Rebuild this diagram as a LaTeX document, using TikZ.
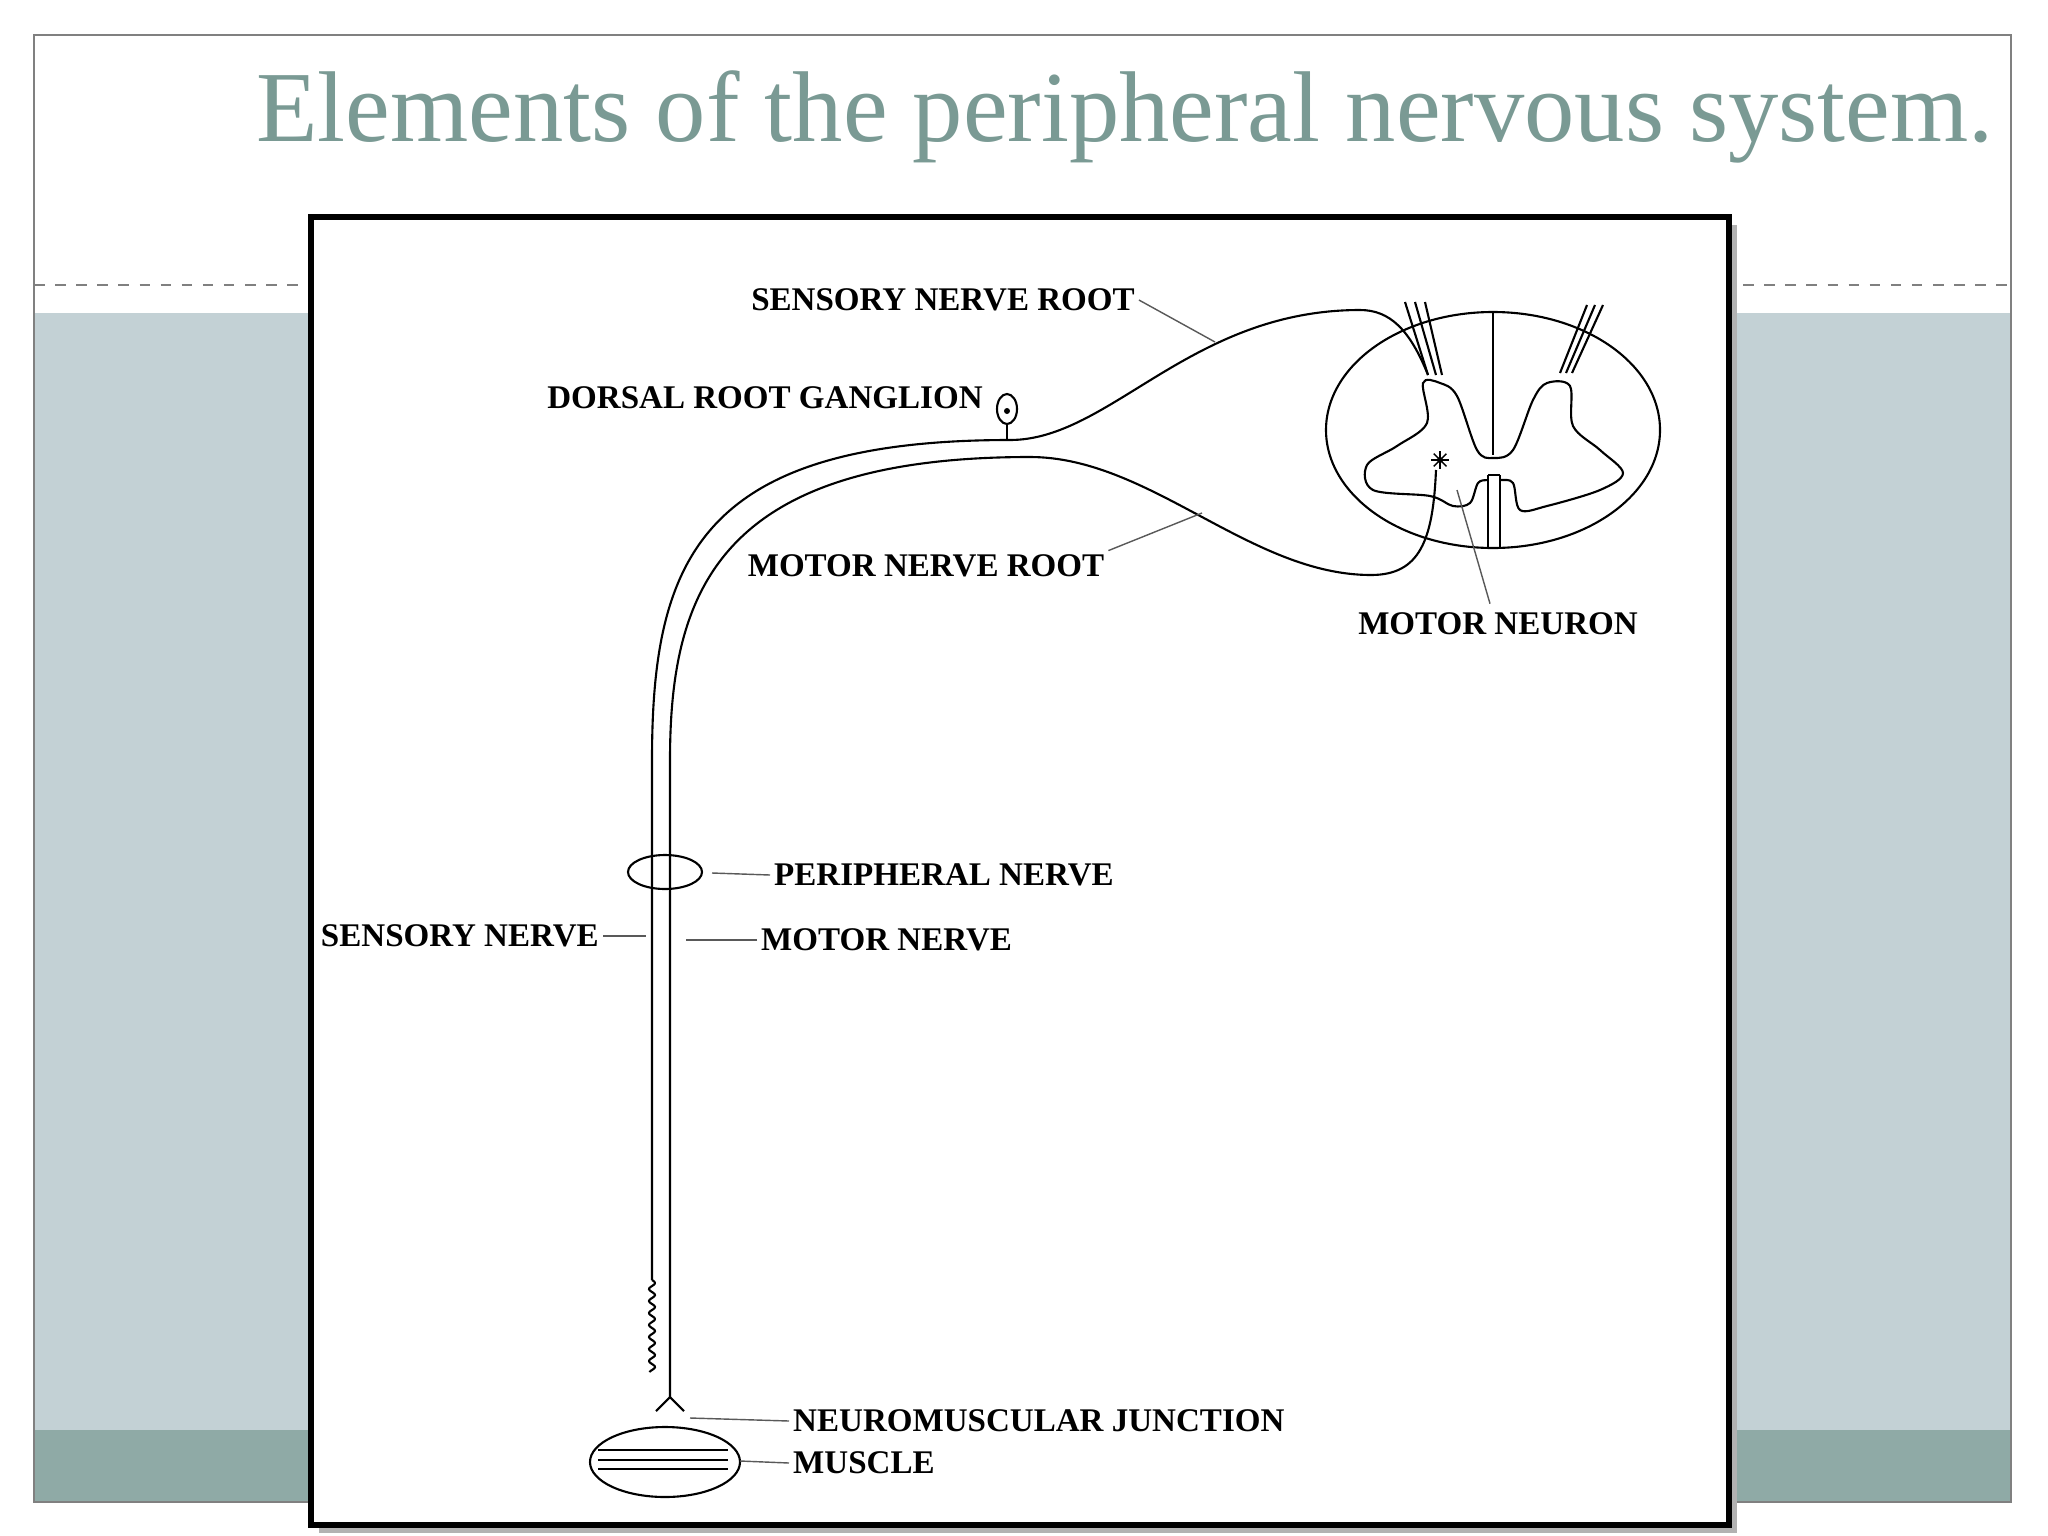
\documentclass[tikz,border=0pt]{standalone}
\usepackage{fontspec}
\setmainfont{Liberation Serif}
\definecolor{band}{HTML}{C3D1D5}
\definecolor{bandd}{HTML}{8FAAA6}
\definecolor{titlec}{HTML}{7A9A94}
\tikzset{lbl/.style={font=\bfseries\fontsize{9.4}{11}\selectfont,inner sep=1pt},
  nv/.style={line width=0.6pt},
  ld/.style={line width=0.4pt,gray!70!black}}
\begin{document}
\begin{tikzpicture}[x=0.01cm,y=-0.01cm]
  \useasboundingbox (0,0) rectangle (2048,1536);
  % slide background
  \fill[band] (34,313) rectangle (2011,1430);
  \fill[bandd] (34,1430) rectangle (2011,1502);
  \draw[gray,line width=0.5pt] (34,35) rectangle (2011,1502);
  \draw[gray,dashed,line width=0.4pt] (34,285) -- (2011,285);
  \node[text=titlec,font=\fontsize{28.6}{32}\selectfont] (title) at (1125,117) {Elements of the peripheral nervous system.};
  % frame
  \fill[gray!60] (319,225) rectangle (1737,1533);
  \draw[fill=white,line width=1.6pt] (311,217) rectangle (1729,1525);
  % spinal cord
  \draw[nv] (1493,430) ellipse (167 and 118);
  \draw[nv] (1493,313) -- (1493,455);
  \draw[nv] plot[smooth cycle,tension=0.55] coordinates {(1423,383) (1427,423) (1397,446) (1367,465) (1373,490) (1430,496) (1453,506) (1470,503) (1478,483) (1488,480)
    (1500,480) (1513,483) (1520,510) (1547,506) (1600,490) (1623,473) (1600,450) (1573,426) (1570,386) (1547,383) (1533,400) (1513,450) (1493,458) (1477,450) (1457,396) (1440,383)};
  \fill[white] (1489,475) rectangle (1499,546);
  \draw[nv] (1488,475) -- (1488,547) (1500,475) -- (1500,547) (1488,475) -- (1500,475);
  % rootlets
  \foreach \a/\b in {1405/1428,1415/1436,1425/1442}
    \draw[nv] (\a,302) -- (\b,375);
  \foreach \a/\b in {1587/1560,1603/1572,1595/1566}
    \draw[nv] (\a,305) -- (\b,373);
  % motor neuron
  \coordinate (mn) at (1440,460);
  \foreach \k in {0,45,...,315}
    \draw[line width=0.4pt] (mn) -- ++(\k:9);
  \fill (mn) circle (3);
  % nerve fibres
  \draw[nv] (652,1280) -- (652,760) .. controls (652,560) and (700,440) .. (1010,440)
    .. controls (1110,440) and (1190,310) .. (1360,310) .. controls (1390,310) and (1410,330) .. (1428,375);
  \draw[nv] plot[domain=1280:1372,samples=80,smooth] ({652+3*sin(30*(\x-1280))},{\x});
  \draw[nv] (670,1397) -- (670,760) .. controls (670,590) and (720,457) .. (1030,457)
    .. controls (1150,457) and (1250,575) .. (1371,575) .. controls (1420,575) and (1433,540) .. (1436,470);
  % ganglion
  \draw[nv,fill=white] (1007,409) ellipse (10 and 15);
  \fill (1007,411) circle (3);
  \draw[nv] (1007,424) -- (1007,440);
  % peripheral nerve ring
  \draw[nv] (665,872) ellipse (37 and 17);
  % junction and muscle
  \draw[nv] (656,1411) -- (670,1397) -- (684,1411);
  \draw[nv] (665,1462) ellipse (75 and 35);
  \foreach \y in {1450,1460,1469}
    \draw[nv] (598,\y) -- (728,\y);
  % labels
  \node[lbl] (snr) at (943,300) {SENSORY NERVE ROOT};
  \node[lbl] (drg) at (765,398) {DORSAL ROOT GANGLION};
  \node[lbl] (mnr) at (926,566) {MOTOR NERVE ROOT};
  \node[lbl] (mnl) at (1498,624) {MOTOR NEURON};
  \node[lbl,anchor=west] (pn) at (770,875) {PERIPHERAL NERVE};
  \node[lbl,anchor=east] (sn) at (603,936) {SENSORY NERVE};
  \node[lbl,anchor=west] (mnv) at (757,940) {MOTOR NERVE};
  \node[lbl,anchor=west] (nmj) at (789,1421) {NEUROMUSCULAR JUNCTION};
  \node[lbl,anchor=west] (msc) at (789,1463) {MUSCLE};
  % leaders
  \coordinate (snrE) at (1215,342);
  \coordinate (mnrE) at (1202,513);
  \coordinate (mnE) at (1457,490);
  \coordinate (pnE) at (712,873);
  \coordinate (snE) at (646,936);
  \coordinate (mnvE) at (686,940);
  \coordinate (nmjE) at (690,1418);
  \coordinate (mscE) at (740,1461);
  \draw[ld] (snr.east) -- (snrE);
  \draw[ld] (mnr.north east) -- (mnrE);
  \draw[ld] (mnl.north) ++(-8,-5) -- (mnE);
  \draw[ld] (pn.west) -- (pnE);
  \draw[ld] (sn.east) -- (snE);
  \draw[ld] (mnv.west) -- (mnvE);
  \draw[ld] (nmj.west) -- (nmjE);
  \draw[ld] (msc.west) -- (mscE);
\end{tikzpicture}
\end{document}
